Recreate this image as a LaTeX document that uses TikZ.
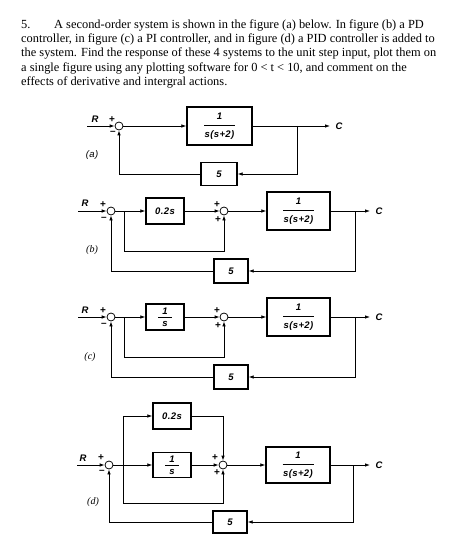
\documentclass[tikz,border=0pt]{standalone}
\usepackage{fontspec}
\setmainfont{Liberation Serif}
\newfontfamily\dgfont[LetterSpace=4]{Liberation Sans}
\usetikzlibrary{arrows.meta}
\tikzset{
  blk/.style  = {draw, line width=1.3pt, inner sep=0pt, align=center,
                 font=\dgfont\bfseries\itshape\fontsize{9.5}{9}\selectfont},
  sum/.style  = {draw, circle, line width=0.75pt, minimum size=8pt, inner sep=0pt},
  sig/.style  = {line width=0.75pt, -{Latex[length=5pt,width=3.5pt]}},
  lbl/.style  = {inner sep=0pt, font=\dgfont\bfseries\itshape\fontsize{9.5}{10}\selectfont},
  sgn/.style  = {inner sep=0pt, font=\dgfont\bfseries\fontsize{10}{11}\selectfont},
  tag/.style  = {inner sep=0pt, font=\itshape\fontsize{10}{11}\selectfont},
}
\newcommand{\plant}{1\\\rule[2.7pt]{31pt}{0.5pt}\\s(s+2)}
\newcommand{\integ}{1\\[-3pt]\rule[2.7pt]{14pt}{0.5pt}\\[-3pt]s}
\begin{document}
\begin{tikzpicture}[x=1pt, y=-1pt]
  \useasboundingbox (0,0) rectangle (469,548);
  \node[anchor=north west, inner sep=0pt, align=left,
        font=\fontsize{12.4}{14.3}\selectfont] (quest) at (21,19.4)
    {\makebox[33pt][l]{5.}A second-order system is shown in the figure (a) below. In figure (b) a PD\\
     controller, in figure (c) a PI controller, and in figure (d) a PID controller is added to\\
     the system. Find the response of these 4 systems to the unit step input, plot them on\\
     a single figure using any plotting software for 0 < t < 10, and comment on the\\
     effects of derivative and intergral actions.};

  % (a) plant with feedback
  \coordinate (Ra) at (87,126);
  \node[sum] (Sa) at (119,126) {};
  \node[blk, minimum width=65pt, minimum height=38pt] (Ga) at (219.5,126) {\plant};
  \coordinate (Pa) at (297,126);
  \coordinate (Ca) at (330,126);
  \node[blk, minimum width=36pt, minimum height=23pt] (Fa) at (219,174) {5};
  \node[lbl] (ra) at (95,119) {R};
  \node[lbl] (ca) at (339,126) {C};
  \node[sgn] (pa) at (112,120) {+};
  \node[sgn] (ma) at (113,133) {–};
  \node[tag, font=\dgfont\itshape\fontsize{9.5}{10}\selectfont] (ta) at (92,155) {(a)};
  \draw[sig] (Ra) -- (Sa);
  \draw[sig] (Sa) -- (Ga);
  \draw[sig] (Ga) -- (Ca);
  \draw[sig] (Pa) |- (Fa);
  \draw[sig] (Fa) -| (Sa);

  % (b) PD
  \coordinate (Rb) at (78,211);
  \node[sum] (Sb1) at (111,211) {};
  \coordinate (Bb) at (124,211);
  \node[blk, minimum width=38pt, minimum height=26pt] (Db) at (165,211) {0.2s};
  \node[sum] (Sb2) at (224,211) {};
  \coordinate (Kb) at (224,251);
  \node[blk, minimum width=63pt, minimum height=38pt] (Gb) at (298.5,211) {\plant};
  \coordinate (Pb) at (355,211);
  \coordinate (Cb) at (370,211);
  \node[blk, minimum width=34pt, minimum height=24pt] (Fb) at (231,271) {5};
  \node[lbl] (rb) at (85,203) {R};
  \node[lbl] (cb) at (379,211) {C};
  \node[sgn] (pb1) at (103,205) {+};
  \node[sgn] (mb1) at (104,219) {–};
  \node[sgn] (pb2) at (217,205) {+};
  \node[sgn] (qb2) at (218,220) {+};
  \node[tag] (tb) at (92,250) {(b)};
  \draw[sig] (Rb) -- (Sb1);
  \draw[sig] (Sb1) -- (Db);
  \draw[sig] (Db) -- (Sb2);
  \draw[sig] (Bb) |- (Kb) -- (Sb2);
  \draw[sig] (Sb2) -- (Gb);
  \draw[sig] (Gb) -- (Cb);
  \draw[sig] (Pb) |- (Fb);
  \draw[sig] (Fb) -| (Sb1);

  % (c) PI
  \coordinate (Rc) at (78,317);
  \node[sum] (Sc1) at (111,317) {};
  \coordinate (Bc) at (124,317);
  \node[blk, minimum width=38pt, minimum height=26pt] (Ic) at (165,317) {\integ};
  \node[sum] (Sc2) at (224,317) {};
  \coordinate (Kc) at (224,357);
  \node[blk, minimum width=63pt, minimum height=38pt] (Gc) at (298.5,317) {\plant};
  \coordinate (Pc) at (355,317);
  \coordinate (Cc) at (370,317);
  \node[blk, minimum width=34pt, minimum height=24pt] (Fc) at (231,377) {5};
  \node[lbl] (rc) at (85,310) {R};
  \node[lbl] (cc) at (379,317) {C};
  \node[sgn] (pc1) at (103,311) {+};
  \node[sgn] (mc1) at (104,325) {–};
  \node[sgn] (pc2) at (217,311) {+};
  \node[sgn] (qc2) at (218,326) {+};
  \node[tag] (tc) at (90,357) {(c)};
  \draw[sig] (Rc) -- (Sc1);
  \draw[sig] (Sc1) -- (Ic);
  \draw[sig] (Ic) -- (Sc2);
  \draw[sig] (Bc) |- (Kc) -- (Sc2);
  \draw[sig] (Sc2) -- (Gc);
  \draw[sig] (Gc) -- (Cc);
  \draw[sig] (Pc) |- (Fc);
  \draw[sig] (Fc) -| (Sc1);

  % (d) PID
  \coordinate (Rd) at (77,465);
  \node[sum] (Sd1) at (109,465) {};
  \coordinate (Bd) at (123,465);
  \node[blk, minimum width=38pt, minimum height=26pt] (Dd) at (172,416) {0.2s};
  \node[blk, minimum width=38pt, minimum height=25pt] (Id) at (172,465) {\integ};
  \node[sum] (Sd2) at (223,465) {};
  \coordinate (Kd) at (223,503);
  \node[blk, minimum width=64pt, minimum height=36pt] (Gd) at (298,465) {\plant};
  \coordinate (Pd) at (353,465);
  \coordinate (Cd) at (370,465);
  \node[blk, minimum width=34pt, minimum height=22pt] (Fd) at (230,522) {5};
  \node[lbl] (rd) at (83,458) {R};
  \node[lbl] (cd) at (379,465) {C};
  \node[sgn] (pd1) at (101,458) {+};
  \node[sgn] (md1) at (102,472) {–};
  \node[sgn] (pd2) at (215,458) {+};
  \node[sgn] (qd2) at (217,473) {+};
  \node[tag] (td) at (93,502) {(d)};
  \draw[sig] (Rd) -- (Sd1);
  \draw[sig] (Sd1) -- (Id);
  \draw[sig] (Bd) |- (Dd);
  \draw[sig] (Dd) -| (Sd2);
  \draw[sig] (Id) -- (Sd2);
  \draw[sig] (Bd) |- (Kd) -- (Sd2);
  \draw[sig] (Sd2) -- (Gd);
  \draw[sig] (Gd) -- (Cd);
  \draw[sig] (Pd) |- (Fd);
  \draw[sig] (Fd) -| (Sd1);
\end{tikzpicture}
\end{document}
